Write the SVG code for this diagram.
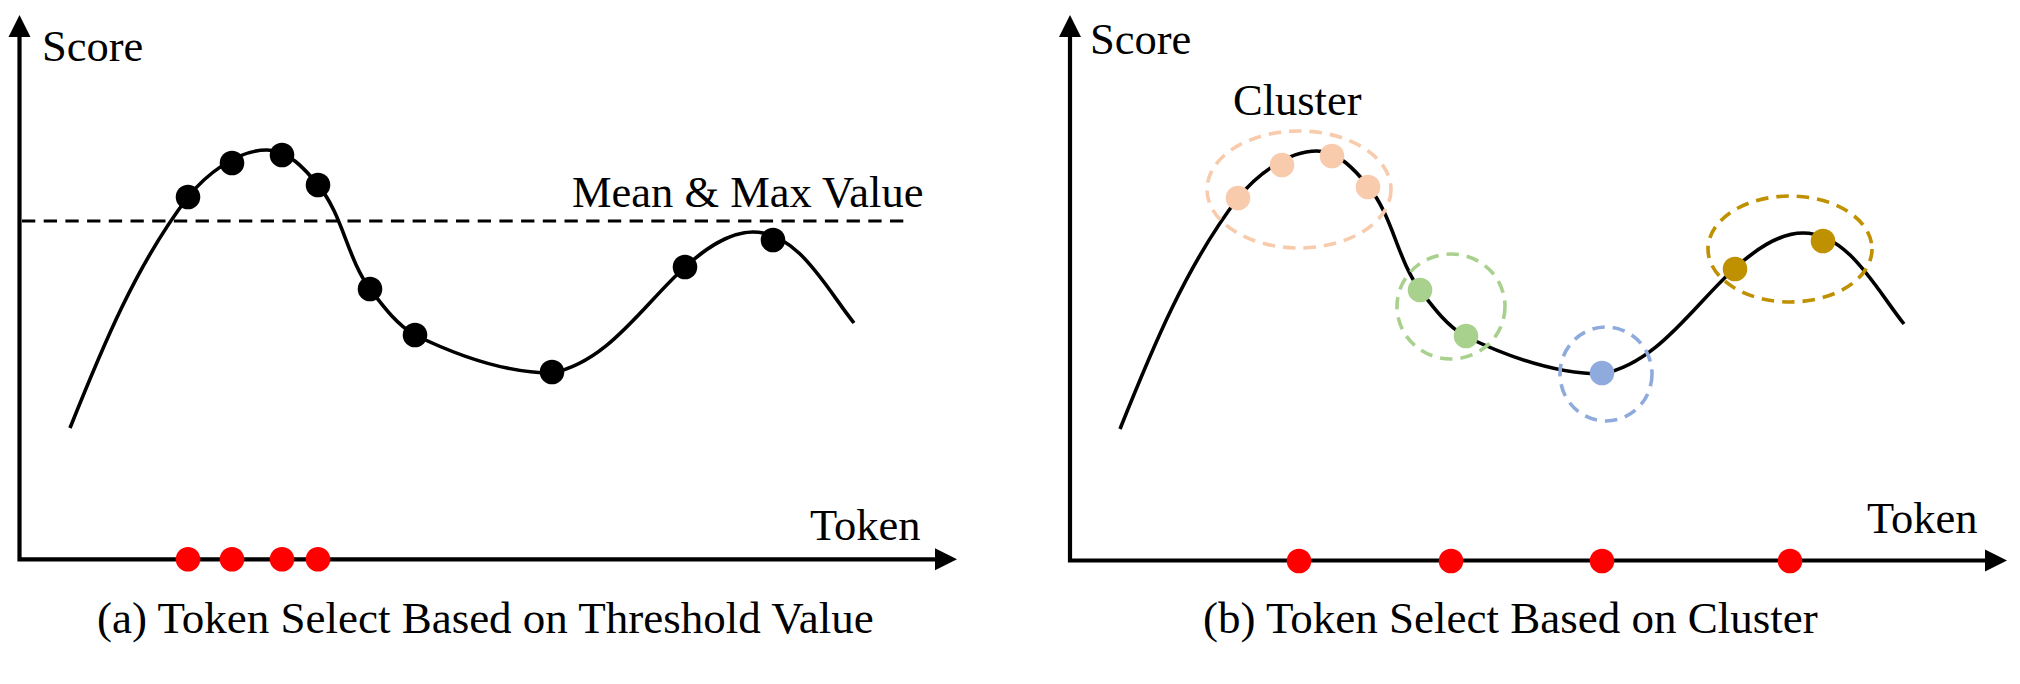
<svg xmlns="http://www.w3.org/2000/svg" width="2020" height="684" viewBox="0 0 2020 684">
<defs>
<style>
.ax{stroke:#000;stroke-width:4.2;fill:none}
.ah{fill:#000}
.crv{stroke:#000;stroke-width:3.6;fill:none;stroke-linecap:butt}
.thr{stroke:#000;stroke-width:3.2;fill:none;stroke-dasharray:13.3 8.4}
.lbl{font-family:"Liberation Serif","Times New Roman",serif;font-size:44.5px;fill:#000}
.cap{font-family:"Liberation Serif","Times New Roman",serif;font-size:45px;fill:#000}
.blk{fill:#000}
.red{fill:#FF0000}
.ell{fill:none;stroke-width:3.6;stroke-dasharray:12.5 8}
</style>
<path id="curve" d="M70 428 C102 348 136 265 188 197 C205 176 236 150 267 150 C288 150 305 169 318 185 C343 215 347 258 370 289 C383 306 397 325 415 335 C458 356 505 373 552 373 C608 362 643 305 685 267 C704 250 728 232 753 232 C798 232 826 288 854 323"/>
</defs>
<rect width="2020" height="684" fill="#fff"/>

<g id="panel-a">
  <g id="axes-a">
    <path class="ax" d="M19.5 36 V561.3 M17.4 559.3 H936"/>
    <polygon class="ah" points="19.5,15 8.5,37 30.5,37"/>
    <polygon class="ah" points="957,559.3 935,548.3 935,570.3"/>
  </g>
  <line id="threshold" class="thr" x1="22" y1="221" x2="908" y2="221"/>
  <use id="curve-a" href="#curve" class="crv"/>
  <g id="points-a" class="blk">
    <circle cx="188" cy="197" r="12.3"/>
    <circle cx="232" cy="163" r="12.3"/>
    <circle cx="282" cy="155" r="12.3"/>
    <circle cx="318" cy="185" r="12.3"/>
    <circle cx="370" cy="289" r="12.3"/>
    <circle cx="415" cy="335" r="12.3"/>
    <circle cx="552" cy="372" r="12.3"/>
    <circle cx="685" cy="267" r="12.3"/>
    <circle cx="773" cy="240" r="12.3"/>
  </g>
  <g id="selected-a" class="red">
    <circle cx="188" cy="559.3" r="12.3"/>
    <circle cx="232" cy="559.3" r="12.3"/>
    <circle cx="282" cy="559.3" r="12.3"/>
    <circle cx="318" cy="559.3" r="12.3"/>
  </g>
  <text class="lbl" x="42" y="61">Score</text>
  <text class="lbl" x="810" y="540">Token</text>
  <text class="lbl" x="572" y="207">Mean &amp; Max Value</text>
  <text class="cap" x="97" y="633">(a) Token Select Based on Threshold Value</text>
</g>

<g id="panel-b">
  <g id="axes-b">
    <path class="ax" d="M1070 36 V562.5 M1068 560.5 H1986"/>
    <polygon class="ah" points="1070,15 1059,37 1081,37"/>
    <polygon class="ah" points="2007,560.5 1985,549.5 1985,571.5"/>
  </g>
  <use id="curve-b" href="#curve" class="crv" transform="translate(1050 1)"/>
  <g id="cluster-orange">
    <circle cx="1238" cy="198" r="12.3" fill="#F8CBAD"/>
    <circle cx="1282" cy="165" r="12.3" fill="#F8CBAD"/>
    <circle cx="1332" cy="156" r="12.3" fill="#F8CBAD"/>
    <circle cx="1368" cy="187" r="12.3" fill="#F8CBAD"/>
    <ellipse class="ell" cx="1299" cy="189.5" rx="92" ry="58.5" stroke="#F8CBAD"/>
  </g>
  <g id="cluster-green">
    <circle cx="1420" cy="290" r="12.3" fill="#A9D18E"/>
    <circle cx="1466" cy="336" r="12.3" fill="#A9D18E"/>
    <ellipse class="ell" cx="1451" cy="306.5" rx="54" ry="52.5" stroke="#A9D18E"/>
  </g>
  <g id="cluster-blue">
    <circle cx="1602" cy="373" r="12.3" fill="#8FAADC"/>
    <ellipse class="ell" cx="1606" cy="374" rx="46" ry="47" stroke="#8FAADC"/>
  </g>
  <g id="cluster-gold">
    <circle cx="1735" cy="269" r="12.3" fill="#BF9000"/>
    <circle cx="1823" cy="241" r="12.3" fill="#BF9000"/>
    <ellipse class="ell" cx="1790" cy="249" rx="82" ry="53" stroke="#BF9000"/>
  </g>
  <g id="selected-b" class="red">
    <circle cx="1299" cy="561" r="12.3"/>
    <circle cx="1451" cy="561" r="12.3"/>
    <circle cx="1602" cy="561" r="12.3"/>
    <circle cx="1790" cy="561" r="12.3"/>
  </g>
  <text class="lbl" x="1090" y="54">Score</text>
  <text class="lbl" x="1233" y="115">Cluster</text>
  <text class="lbl" x="1867" y="533">Token</text>
  <text class="cap" x="1203" y="633">(b) Token Select Based on Cluster</text>
</g>
</svg>
